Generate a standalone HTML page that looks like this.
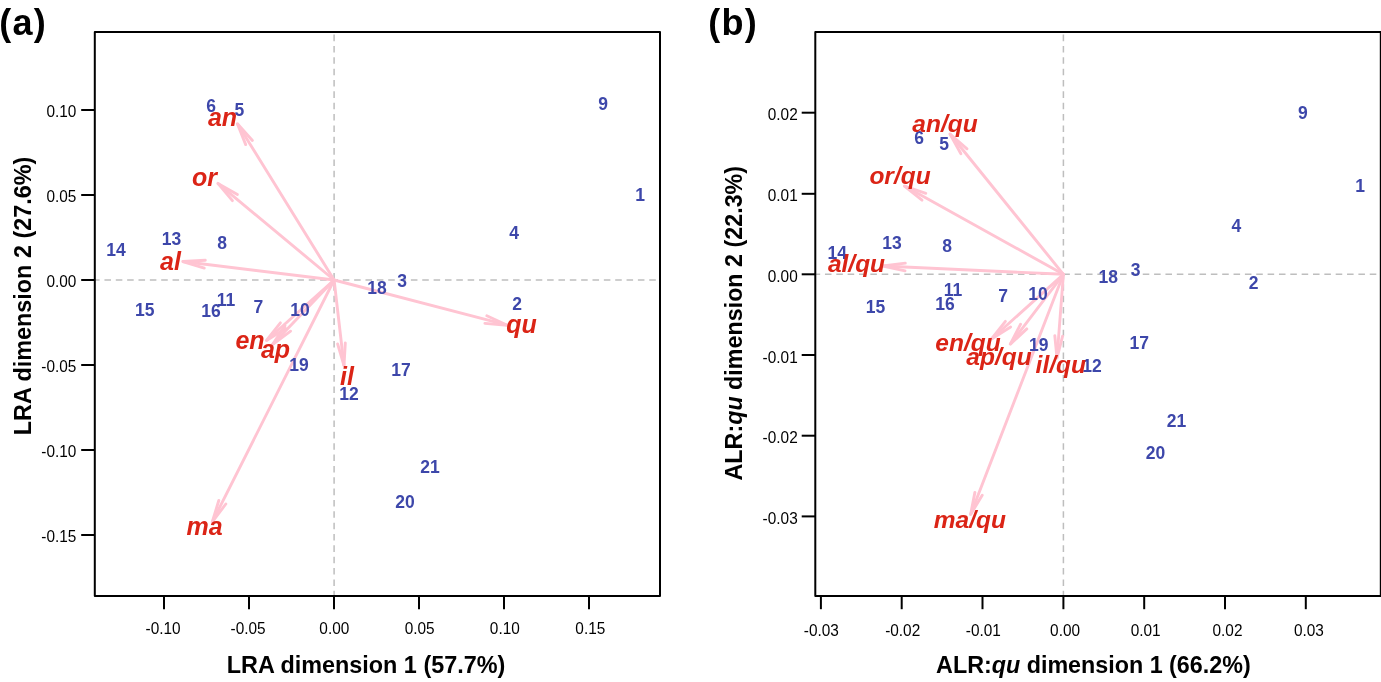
<!DOCTYPE html>
<html><head><meta charset="utf-8"><title>Biplots</title>
<style>
html,body{margin:0;padding:0;background:#fff;}
svg{display:block;font-family:"Liberation Sans",sans-serif;}
</style></head><body>
<svg width="1381" height="682" viewBox="0 0 1381 682">
<rect width="1381" height="682" fill="#fff"/>
<g stroke="#BEBEBE" stroke-width="1.5" stroke-dasharray="6.55,4.8" fill="none">
<line x1="93.10" y1="280" x2="658" y2="280"/>
<line x1="334.1" y1="597.30" x2="334.1" y2="33"/>
</g>
<g stroke="#FFC4D2" stroke-width="2.9" fill="none" stroke-linecap="round" stroke-linejoin="miter">
<line x1="334.1" y1="280" x2="237.4" y2="123.7"/><polyline points="252.4,140.5 237.4,123.7 245.7,144.6"/>
<line x1="334.1" y1="280" x2="217.9" y2="183.4"/><polyline points="237.4,194.6 217.9,183.4 232.4,200.6"/>
<line x1="334.1" y1="280" x2="182.8" y2="261.5"/><polyline points="205.3,260.3 182.8,261.5 204.3,268.1"/>
<line x1="334.1" y1="280" x2="266.5" y2="340.5"/><polyline points="280.4,322.8 266.5,340.5 285.6,328.6"/>
<line x1="334.1" y1="280" x2="272.5" y2="344.5"/><polyline points="285.0,325.8 272.5,344.5 290.6,331.2"/>
<line x1="334.1" y1="280" x2="344" y2="365.5"/><polyline points="337.6,343.9 344,365.5 345.3,343.0"/>
<line x1="334.1" y1="280" x2="212.3" y2="522"/><polyline points="218.8,500.5 212.3,522 225.8,504.0"/>
<line x1="334.1" y1="280" x2="507.3" y2="325.2"/><polyline points="484.9,323.4 507.3,325.2 486.8,315.8"/>
</g>
<rect x="94.8" y="32" width="565.2" height="564" fill="none" stroke="#000" stroke-width="2" stroke-linejoin="round"/>
<g stroke="#000" stroke-width="2">
<line x1="164" y1="596" x2="164" y2="609.2"/>
<line x1="249" y1="596" x2="249" y2="609.2"/>
<line x1="334" y1="596" x2="334" y2="609.2"/>
<line x1="419" y1="596" x2="419" y2="609.2"/>
<line x1="504" y1="596" x2="504" y2="609.2"/>
<line x1="589" y1="596" x2="589" y2="609.2"/>
<line x1="81.2" y1="110" x2="94.8" y2="110"/>
<line x1="81.2" y1="195" x2="94.8" y2="195"/>
<line x1="81.2" y1="280" x2="94.8" y2="280"/>
<line x1="81.2" y1="365" x2="94.8" y2="365"/>
<line x1="81.2" y1="450" x2="94.8" y2="450"/>
<line x1="81.2" y1="535" x2="94.8" y2="535"/>
</g>
<g font-size="15.4" fill="#000">
<text transform="translate(163.1 634.1) scale(1 1.06)" text-anchor="middle">-0.10</text>
<text transform="translate(248.1 634.1) scale(1 1.06)" text-anchor="middle">-0.05</text>
<text transform="translate(334.3 634.1) scale(1 1.06)" text-anchor="middle">0.00</text>
<text transform="translate(419.7 634.1) scale(1 1.06)" text-anchor="middle">0.05</text>
<text transform="translate(504.8 634.1) scale(1 1.06)" text-anchor="middle">0.10</text>
<text transform="translate(590.3 634.1) scale(1 1.06)" text-anchor="middle">0.15</text>
<text transform="translate(76.4 116.9) scale(1 1.06)" text-anchor="end">0.10</text>
<text transform="translate(76.4 201.9) scale(1 1.06)" text-anchor="end">0.05</text>
<text transform="translate(76.4 286.9) scale(1 1.06)" text-anchor="end">0.00</text>
<text transform="translate(76.4 371.9) scale(1 1.06)" text-anchor="end">-0.05</text>
<text transform="translate(76.4 456.9) scale(1 1.06)" text-anchor="end">-0.10</text>
<text transform="translate(76.4 541.9) scale(1 1.06)" text-anchor="end">-0.15</text>
</g>
<g font-size="17.5" font-weight="bold" fill="#3D47AA" text-anchor="middle">
<text x="640" y="200.5">1</text>
<text x="517" y="309.5">2</text>
<text x="402" y="286.5">3</text>
<text x="514" y="238.5">4</text>
<text x="239.4" y="115.5">5</text>
<text x="211" y="111.5">6</text>
<text x="258.4" y="312.5">7</text>
<text x="222" y="248.5">8</text>
<text x="603" y="109.5">9</text>
<text x="300" y="315.5">10</text>
<text x="226" y="305.5">11</text>
<text x="349" y="399.5">12</text>
<text x="171.4" y="244.5">13</text>
<text x="116" y="255.5">14</text>
<text x="144.7" y="315.5">15</text>
<text x="211" y="316.5">16</text>
<text x="401" y="375.5">17</text>
<text x="377" y="293.5">18</text>
<text x="299" y="371.3">19</text>
<text x="405" y="507.5">20</text>
<text x="430" y="472.5">21</text>
</g>
<g font-size="25" font-weight="bold" font-style="italic" fill="#DB2416" text-anchor="middle">
<text x="222.5" y="126.3">an</text>
<text x="204.5" y="186">or</text>
<text x="170.5" y="270">al</text>
<text x="250" y="349">en</text>
<text x="275.5" y="358">ap</text>
<text x="347" y="385">il</text>
<text x="204.6" y="535">ma</text>
<text x="521.5" y="332.7">qu</text>
</g>
<text x="366" y="672.9" font-size="23.4" font-weight="bold" text-anchor="middle">LRA dimension 1 (57.7%)</text>
<text transform="translate(31.4,296) rotate(-90)" font-size="23.4" font-weight="bold" text-anchor="middle">LRA dimension 2 (27.6%)</text>
<text x="-0.7" y="34.9" font-size="36" font-weight="bold">(<tspan dx="1.2">a</tspan><tspan dx="1.2">)</tspan></text>
<g stroke="#BEBEBE" stroke-width="1.5" stroke-dasharray="6.55,4.8" fill="none">
<line x1="813.60" y1="274.3" x2="1378.8" y2="274.3"/>
<line x1="1063.4" y1="597.30" x2="1063.4" y2="33"/>
</g>
<g stroke="#FFC4D2" stroke-width="2.9" fill="none" stroke-linecap="round" stroke-linejoin="miter">
<line x1="1063.4" y1="274.3" x2="950" y2="134"/><polyline points="967.0,148.8 950,134 960.9,153.7"/>
<line x1="1063.4" y1="274.3" x2="904.5" y2="186"/><polyline points="925.8,193.3 904.5,186 922.0,200.2"/>
<line x1="1063.4" y1="274.3" x2="883" y2="266"/><polyline points="905.3,263.1 883,266 905.0,270.9"/>
<line x1="1063.4" y1="274.3" x2="991.5" y2="339"/><polyline points="1005.4,321.3 991.5,339 1010.6,327.1"/>
<line x1="1063.4" y1="274.3" x2="1010.3" y2="344.2"/><polyline points="1020.6,324.2 1010.3,344.2 1026.8,328.9"/>
<line x1="1063.4" y1="274.3" x2="1057" y2="358"/><polyline points="1054.8,335.6 1057,358 1062.6,336.2"/>
<line x1="1063.4" y1="274.3" x2="970.6" y2="514.5"/><polyline points="974.9,492.4 970.6,514.5 982.2,495.2"/>
</g>
<rect x="815.3" y="32" width="565.5" height="564" fill="none" stroke="#000" stroke-width="2" stroke-linejoin="round"/>
<g stroke="#000" stroke-width="2">
<line x1="820.9" y1="596" x2="820.9" y2="609.2"/>
<line x1="901.7" y1="596" x2="901.7" y2="609.2"/>
<line x1="982.5" y1="596" x2="982.5" y2="609.2"/>
<line x1="1063.4" y1="596" x2="1063.4" y2="609.2"/>
<line x1="1144.2" y1="596" x2="1144.2" y2="609.2"/>
<line x1="1225" y1="596" x2="1225" y2="609.2"/>
<line x1="1305.8" y1="596" x2="1305.8" y2="609.2"/>
<line x1="801.6999999999999" y1="112.7" x2="815.3" y2="112.7"/>
<line x1="801.6999999999999" y1="193.8" x2="815.3" y2="193.8"/>
<line x1="801.6999999999999" y1="274.3" x2="815.3" y2="274.3"/>
<line x1="801.6999999999999" y1="355" x2="815.3" y2="355"/>
<line x1="801.6999999999999" y1="435.7" x2="815.3" y2="435.7"/>
<line x1="801.6999999999999" y1="516.4" x2="815.3" y2="516.4"/>
</g>
<g font-size="15.4" fill="#000">
<text transform="translate(821.3 635.8) scale(1 1.06)" text-anchor="middle">-0.03</text>
<text transform="translate(902.7 635.8) scale(1 1.06)" text-anchor="middle">-0.02</text>
<text transform="translate(983.3 635.8) scale(1 1.06)" text-anchor="middle">-0.01</text>
<text transform="translate(1065.1 635.8) scale(1 1.06)" text-anchor="middle">0.00</text>
<text transform="translate(1145.7 635.8) scale(1 1.06)" text-anchor="middle">0.01</text>
<text transform="translate(1227.5 635.8) scale(1 1.06)" text-anchor="middle">0.02</text>
<text transform="translate(1308.9 635.8) scale(1 1.06)" text-anchor="middle">0.03</text>
<text transform="translate(797.7 120.3) scale(1 1.06)" text-anchor="end">0.02</text>
<text transform="translate(797.7 201.4) scale(1 1.06)" text-anchor="end">0.01</text>
<text transform="translate(797.7 281.9) scale(1 1.06)" text-anchor="end">0.00</text>
<text transform="translate(797.7 362.6) scale(1 1.06)" text-anchor="end">-0.01</text>
<text transform="translate(797.7 443.3) scale(1 1.06)" text-anchor="end">-0.02</text>
<text transform="translate(797.7 524.0) scale(1 1.06)" text-anchor="end">-0.03</text>
</g>
<g font-size="17.5" font-weight="bold" fill="#3D47AA" text-anchor="middle">
<text x="1360" y="191.5">1</text>
<text x="1253.5" y="288.5">2</text>
<text x="1135.5" y="275.5">3</text>
<text x="1236.4" y="231.5">4</text>
<text x="944" y="149.5">5</text>
<text x="919" y="143.5">6</text>
<text x="1003" y="301.5">7</text>
<text x="947" y="251.5">8</text>
<text x="1302.8" y="118.5">9</text>
<text x="1038" y="299.5">10</text>
<text x="953" y="295.5">11</text>
<text x="1092" y="371.5">12</text>
<text x="892" y="248.5">13</text>
<text x="837.2" y="259.0">14</text>
<text x="875.5" y="312.5">15</text>
<text x="945" y="309.5">16</text>
<text x="1139.3" y="348.5">17</text>
<text x="1108.2" y="282.5">18</text>
<text x="1038.7" y="350.5">19</text>
<text x="1155.6" y="458.5">20</text>
<text x="1176.5" y="426.5">21</text>
</g>
<g font-size="24.5" font-weight="bold" font-style="italic" fill="#DB2416" text-anchor="middle">
<text x="945" y="132">an/qu</text>
<text x="900" y="184">or/qu</text>
<text x="856.5" y="272">al/qu</text>
<text x="968" y="351">en/qu</text>
<text x="999" y="365">ap/qu</text>
<text x="1060.8" y="373">il/qu</text>
<text x="969.9" y="528">ma/qu</text>
</g>
<text x="1093.4" y="672.6" font-size="23.3" font-weight="bold" text-anchor="middle">ALR:<tspan font-style="italic">qu</tspan> dimension 1 (66.2%)</text>
<text transform="translate(742.3,323.2) rotate(-90)" font-size="23.3" font-weight="bold" text-anchor="middle">ALR:<tspan font-style="italic">qu</tspan> dimension 2 (22.3%)</text>
<text x="708.3" y="34.9" font-size="36" font-weight="bold">(<tspan dx="1.2">b</tspan><tspan dx="1.2">)</tspan></text>
</svg>
</body></html>
